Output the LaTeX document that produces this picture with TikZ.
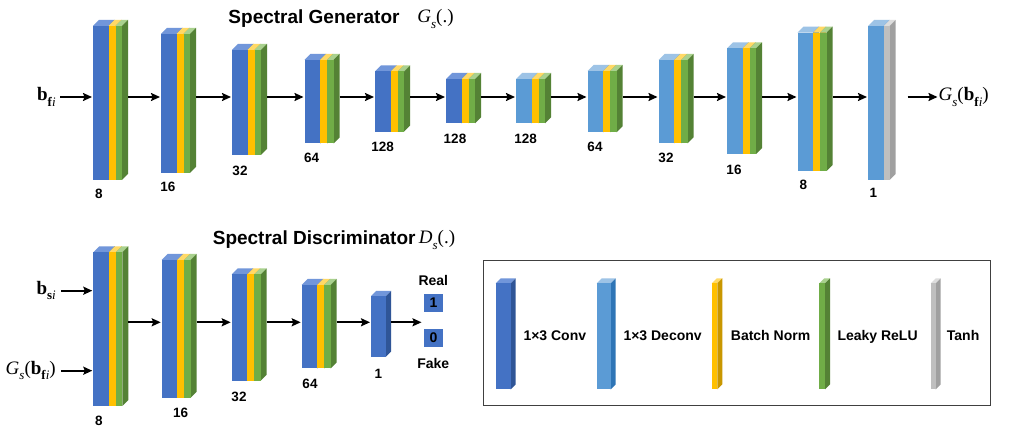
\documentclass[tikz,border=0pt]{standalone}
\usepackage{fontspec}
\setmainfont{Liberation Sans}
\newfontfamily\tms{Liberation Serif}
\usetikzlibrary{arrows.meta}
\definecolor{convF}{HTML}{4472C4}\definecolor{convT}{HTML}{7196DA}\definecolor{convS}{HTML}{2F5597}
\definecolor{deconvF}{HTML}{5B9BD5}\definecolor{deconvT}{HTML}{9DC3E6}\definecolor{deconvS}{HTML}{2E75B6}
\definecolor{bnF}{HTML}{FFC000}\definecolor{bnT}{HTML}{FFD966}\definecolor{bnS}{HTML}{C99700}
\definecolor{lrF}{HTML}{70AD47}\definecolor{lrT}{HTML}{A9D18E}\definecolor{lrS}{HTML}{548235}
\definecolor{thF}{HTML}{BFBFBF}\definecolor{thT}{HTML}{DDDDDD}\definecolor{thS}{HTML}{A0A0A0}
% one layer: x, width, top, bottom, depth, colour prefix
\newcommand\slab[6]{%
  \fill[#6T] (#1,#3) -- ++(#2,0) -- ++(#5,-#5) -- ++(-#2,0) -- cycle;
  \fill[#6S] ({#1+#2},#3) -- ++(#5,-#5) -- ({#1+#2+#5},{#4-#5}) -- ({#1+#2},#4) -- cycle;
  \fill[#6F] (#1,#3) rectangle ({#1+#2},#4);}
% block: name, x, top, bottom, conv prefix
\newcommand\gblk[5]{%
  \slab{#2}{15.5}{#3}{#4}{6}{#5}
  \slab{#2+15.5}{7}{#3}{#4}{6}{bn}
  \slab{#2+22.5}{6.5}{#3}{#4}{6}{lr}
  \node[blockbox, minimum width=35pt, minimum height={(#4-#3)*1pt}] (#1) at ({#2+17.5},{(#3+#4)/2}) {};}
\newcommand\sub[1]{\raisebox{-0.28em}{\fontsize{13}{14}\selectfont #1}}
\newcommand\gsb{\textit{G}\sub{\textit{s}}(\textbf{b}\sub{\textbf{f}\textit{i}})}
\begin{document}
\begin{tikzpicture}[x=1pt,y=-1pt,
  blockbox/.style={inner sep=0pt, outer sep=0pt, draw=none},
  arr/.style={line width=1.8pt, -{Stealth[length=9pt,width=8pt,inset=1.5pt]}, shorten >=1pt},
  num/.style={font=\fontsize{13.5}{15}\selectfont\bfseries, inner sep=0pt},
  ttl/.style={font=\fontsize{19}{22}\selectfont\bfseries, inner sep=0pt},
  mth/.style={font=\fontsize{19}{21}\selectfont\tms, inner sep=0pt},
  leg/.style={font=\fontsize{14}{16}\selectfont\bfseries, inner sep=0pt, anchor=base west},
  valbox/.style={fill=convF, minimum width=18.4pt, minimum height=17.5pt, inner sep=0pt, font=\fontsize{14}{16}\selectfont\bfseries}]
\useasboundingbox (0,0) rectangle (1015,435);
\fill[white] (0,0) rectangle (1015,435);
% ---------------- Generator
\node[ttl] (gtitle) at (314,19) {Spectral Generator};
\node[mth] (gname) at (435.5,19) {\textit{G}\sub{\textit{s}}(.)};
\coordinate (gax) at (0,97);
\gblk{g1}{93}{26}{180}{conv}
\gblk{g2}{161}{34}{173}{conv}
\gblk{g3}{232}{50}{155}{conv}
\gblk{g4}{304.5}{60}{143.5}{conv}
\gblk{g5}{375}{71.5}{131.7}{conv}
\gblk{g6}{446}{79}{123.3}{conv}
\gblk{g7}{516}{79}{123.3}{deconv}
\gblk{g8}{587.5}{71}{132.3}{deconv}
\gblk{g9}{658.5}{60}{143.3}{deconv}
\gblk{g10}{727}{48.3}{154}{deconv}
\gblk{g11}{797.5}{32.7}{171}{deconv}
\slab{868}{15.5}{26}{180}{6}{deconv}
\slab{883.5}{6}{26}{180}{6}{th}
\node[blockbox, minimum width=27.5pt, minimum height=154pt] (g12) at (881.75,103) {};
\node[num] (l1) at (99,194) {8};
\node[num] (l2) at (168,187) {16};
\node[num] (l3) at (240,171) {32};
\node[num] (l4) at (311.7,158) {64};
\node[num] (l5) at (382.7,146.7) {128};
\node[num] (l6) at (455,139.3) {128};
\node[num] (l7) at (525.7,139) {128};
\node[num] (l8) at (595,146.7) {64};
\node[num] (l9) at (666,158) {32};
\node[num] (l10) at (734,170) {16};
\node[num] (l11) at (803.3,185) {8};
\node[num] (l12) at (873.3,193.3) {1};
\node[mth, anchor=east] (gin) at (56,97) {\textbf{b}\sub{\textbf{f}\textit{i}}};
\draw[arr] ([xshift=4pt]gin.east) -- (g1.west |- gax);
\foreach \a/\b in {g1/g2,g2/g3,g3/g4,g4/g5,g5/g6,g6/g7,g7/g8,g8/g9,g9/g10,g10/g11,g11/g12}
  \draw[arr] (\a.east |- gax) -- (\b.west |- gax);
\node[mth, anchor=west] (gout) at (938.5,97) {\gsb};
\coordinate (gos) at (907.7,97);
\draw[arr] (gos) -- (gout.west);
% ---------------- Discriminator
\node[ttl] (dtitle) at (314.2,240) {Spectral Discriminator};
\node[mth] (dname) at (437,240) {\textit{D}\sub{\textit{s}}(.)};
\coordinate (dax) at (0,322.3);
\gblk{d1}{93.3}{252.3}{406}{conv}
\gblk{d2}{161.7}{260}{397.7}{conv}
\gblk{d3}{231.7}{274.3}{380.7}{conv}
\gblk{d4}{301.7}{285}{368.3}{conv}
\slab{371}{15}{296}{356.7}{5}{conv}
\node[blockbox, minimum width=20pt, minimum height=60.7pt] (d5) at (381,326.35) {};
\node[num] (m1) at (99,421) {8};
\node[num] (m2) at (180.7,412.7) {16};
\node[num] (m3) at (239,396.7) {32};
\node[num] (m4) at (310,384) {64};
\node[num] (m5) at (378.3,374) {1};
\node[mth, anchor=east] (din1) at (56,290.7) {\textbf{b}\sub{\textbf{s}\textit{i}}};
\node[mth, anchor=east] (din2) at (56,370.7) {\gsb};
\draw[arr] ([xshift=5pt]din1.east) -- (d1.west |- din1);
\draw[arr] ([xshift=5pt]din2.east) -- (d1.west |- din2);
\foreach \a/\b in {d1/d2,d2/d3,d3/d4,d4/d5}
  \draw[arr] (\a.east |- dax) -- (\b.west |- dax);
\coordinate (dend) at (422.5,322.3);
\draw[arr] (d5.east |- dax) -- (dend);
\node[leg, anchor=center] (real) at (433.3,280) {Real};
\node[valbox] (one) at (433.5,302.8) {1};
\node[valbox] (zero) at (433.5,338) {0};
\node[leg, anchor=center] (fake) at (433.3,363.3) {Fake};
% ---------------- Legend
\draw[line width=1pt, draw=black!75] (483.3,261) rectangle (990,406);
\slab{495.7}{15}{283.3}{389.3}{5}{conv}
\slab{596.7}{14}{283.3}{389.3}{5}{deconv}
\slab{711.7}{5.7}{283.3}{389.3}{5}{bn}
\slab{819.3}{5.7}{283.3}{389.3}{5}{lr}
\slab{930.7}{5}{283.3}{389.3}{5}{th}
\node[leg] (t1) at (523.3,341) {1×3 Conv};
\node[leg] (t2) at (623.3,341) {1×3 Deconv};
\node[leg] (t3) at (730.7,341) {Batch Norm};
\node[leg] (t4) at (837.3,341) {Leaky ReLU};
\node[leg] (t5) at (946.7,341) {Tanh};
\end{tikzpicture}
\end{document}
